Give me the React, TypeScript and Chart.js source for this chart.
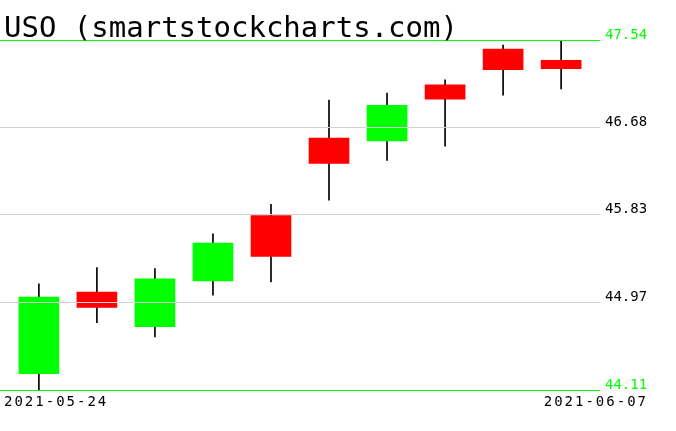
import { useEffect, useRef } from 'react'
import { Chart, registerables, type ChartOptions, type Plugin } from 'chart.js'

Chart.register(...registerables)

const TITLE = 'USO (smartstockcharts.com)'

const dates = [
  '2021-05-24',
  '2021-05-25',
  '2021-05-26',
  '2021-05-27',
  '2021-05-28',
  '2021-06-01',
  '2021-06-02',
  '2021-06-03',
  '2021-06-04',
  '2021-06-07',
]
const opens = [44.27, 45.07, 44.73, 45.18, 45.82, 46.58, 46.55, 47.1, 47.45, 47.34]
const highs = [45.15, 45.31, 45.3, 45.64, 45.93, 46.95, 47.02, 47.15, 47.49, 47.54]
const lows = [44.11, 44.77, 44.63, 45.04, 45.17, 45.97, 46.36, 46.5, 47.0, 47.06]
const closes = [45.02, 44.92, 45.2, 45.55, 45.42, 46.33, 46.9, 46.96, 47.25, 47.26]

const yTicks = [44.11, 44.97, 45.83, 46.68, 47.54]
const yTickLabels = ['44.11', '44.97', '45.83', '46.68', '47.54']

const GREEN = '#00ff00'
const RED = '#ff0000'
const GRID = '#d3d3d3'
const MONO = '"DejaVu Sans Mono", monospace'

// title over the top line, first/last date under the bottom line
const textPlugin: Plugin<'bar'> = {
  id: 'usoText',
  afterDraw(chart) {
    const { ctx, chartArea } = chart
    ctx.save()
    ctx.fillStyle = '#000'
    ctx.textBaseline = 'alphabetic'
    ctx.textAlign = 'left'
    ctx.font = `29px ${MONO}`
    ctx.fillText(TITLE, chartArea.left + 4, chartArea.top - 3)
    ctx.font = `14px ${MONO}`
    ;(ctx as any).letterSpacing = '2px'
    ctx.fillText(dates[0], chartArea.left + 4, chartArea.bottom + 16)
    ctx.textAlign = 'right'
    ctx.fillText(dates[dates.length - 1], chart.width - 28, chartArea.bottom + 16)
    ctx.restore()
  },
}

const lastTick = yTicks.length - 1

const OPTIONS: ChartOptions<'bar'> = {
  responsive: true,
  maintainAspectRatio: false,
  animation: false,
  layout: { padding: { top: 40, bottom: 41, left: 0, right: 0 } },
  plugins: {
    legend: { display: false },
    tooltip: { enabled: false },
  },
  scales: {
    x: {
      type: 'linear',
      display: false,
      offset: false,
      min: -0.67,
      max: 9.67,
    },
    y: {
      position: 'right',
      min: yTicks[0],
      max: yTicks[lastTick],
      afterBuildTicks: (scale) => {
        scale.ticks = yTicks.map((v) => ({ value: v }))
      },
      afterFit: (scale) => {
        scale.width = 76
      },
      ticks: {
        callback: (_v, i) => yTickLabels[i],
        color: (ctx) => (ctx.index === 0 || ctx.index === lastTick ? GREEN : '#000'),
        font: { family: MONO, size: 14 },
        padding: 5,
        labelOffset: -5,
      },
      grid: {
        color: (ctx) => (ctx.index === 0 || ctx.index === lastTick ? GREEN : GRID),
        lineWidth: 1,
        drawTicks: false,
        z: 1,
      },
      border: { display: false },
    },
  },
}

export default function App() {
  const canvasRef = useRef<HTMLCanvasElement>(null)

  useEffect(() => {
    const canvas = canvasRef.current
    if (!canvas) return

    const chart = new Chart(canvas, {
      type: 'bar',
      data: {
        datasets: [
          {
            label: 'body',
            data: dates.map((_, i) => ({ x: i, y: [opens[i], closes[i]] })) as any,
            backgroundColor: closes.map((c, i) => (c >= opens[i] ? GREEN : RED)),
            borderWidth: 0,
            barThickness: 40,
            grouped: false,
          },
          {
            label: 'wick',
            data: dates.map((_, i) => ({ x: i, y: [lows[i], highs[i]] })) as any,
            backgroundColor: '#000',
            borderWidth: 0,
            barThickness: 1,
            grouped: false,
          },
        ],
      },
      options: OPTIONS,
      plugins: [textPlugin],
    })

    return () => {
      chart.destroy()
    }
  }, [])

  return (
    <div style={{ position: 'fixed', left: 0, top: 0, width: 676, height: 431, background: '#fff' }}>
      <canvas ref={canvasRef} aria-label="USO daily candlesticks" />
    </div>
  )
}
